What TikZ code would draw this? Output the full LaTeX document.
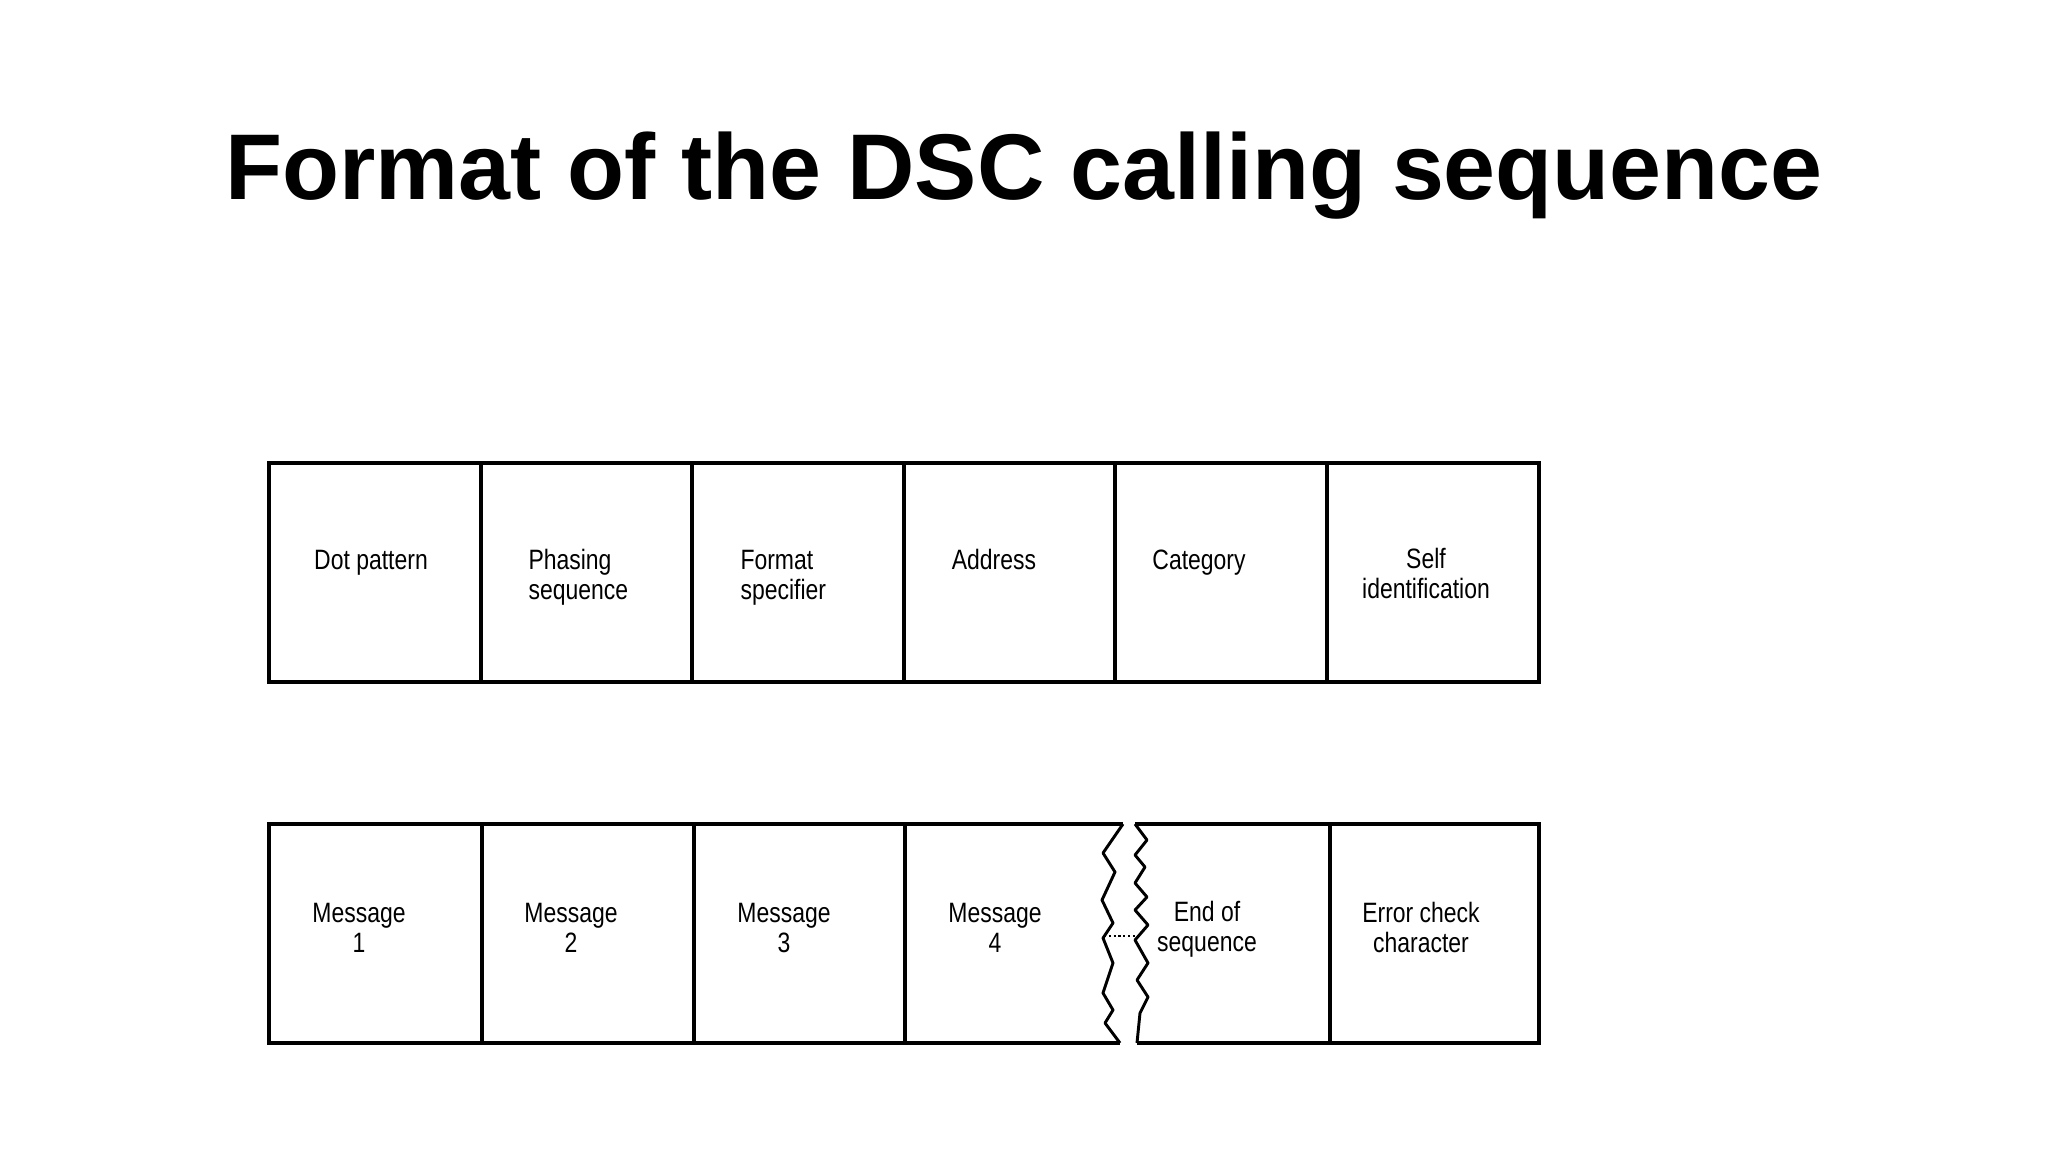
\documentclass[tikz,border=0pt]{standalone}
\usepackage{fontspec}
\setmainfont{Liberation Sans}
\newfontfamily\titlefont{Liberation Sans}
\newfontfamily\lblfamily[FakeStretch=0.82]{Liberation Sans}
\newcommand{\lblfont}{\lblfamily\fontsize{10.5pt}{11.25pt}\selectfont}
\tikzset{
  cellline/.style={line width=1.2pt, line join=miter},
  zig/.style={line width=1.1pt, line join=round},
  lbl/.style={font=\lblfont, inner sep=0pt, anchor=base, align=center},
  lbll/.style={font=\lblfont, inner sep=0pt, anchor=base west, align=left},
}
\begin{document}
\begin{tikzpicture}[x=0.375pt, y=-0.375pt]
\useasboundingbox (0,0) rectangle (2048,1152);
\fill[white] (0,0) rectangle (2048,1152);

% title
\node[font=\titlefont\bfseries\fontsize{35pt}{40pt}\selectfont, inner sep=0pt, anchor=base] (title) at (1024,199) {Format of the DSC calling sequence};

% top row
\coordinate (tTL) at (269,463);
\coordinate (tBR) at (1539,682);
\draw[cellline] (tTL) rectangle (tBR);
\foreach \x in {481,692,904,1115,1327} \draw[cellline] (\x,463) -- (\x,682);

% (multi-line nodes: base anchor is on the last line)
\node[lbl] (t1) at (371,569) {Dot pattern};
\node[lbll] (t2) at (528,599) {Phasing\\sequence};
\node[lbll] (t3) at (740,599) {Format\\specifier};
\node[lbl] (t4) at (994,569) {Address};
\node[lbl] (t5) at (1199,569) {Category};
\node[lbl] (t6) at (1426,598) {Self\\identification};

% bottom row
\draw[cellline] (1123,824) -- (269,824) -- (269,1043) -- (1120,1043);
\draw[cellline] (1135,824) -- (1539,824) -- (1539,1043) -- (1137,1043);
\foreach \x in {482,694,905,1330} \draw[cellline] (\x,824) -- (\x,1043);

% zigzag break
\draw[zig] (1123,824) -- (1103,853) -- (1115,872) -- (1102,900) -- (1113,923) -- (1103,938) -- (1113,963) -- (1103,993) -- (1113,1010) -- (1105,1023) -- (1120,1043);
\draw[zig] (1135,824) -- (1147,840) -- (1135,855) -- (1145,867) -- (1135,883) -- (1147,897) -- (1135,910) -- (1148,925) -- (1135,940) -- (1148,963) -- (1137,980) -- (1148,997) -- (1140,1013) -- (1137,1043);
\coordinate (dl) at (1104,936);
\coordinate (dr) at (1137,936);
\draw[line width=0.8pt, densely dotted] (dl) -- (dr);

\node[lbl] (b1) at (359,952) {Message\\1};
\node[lbl] (b2) at (571,952) {Message\\2};
\node[lbl] (b3) at (784,952) {Message\\3};
\node[lbl] (b4) at (995,952) {Message\\4};
\node[lbl] (b5) at (1207,951) {End of\\sequence};
\node[lbl] (b6) at (1421,952) {Error check\\character};
\end{tikzpicture}
\end{document}
